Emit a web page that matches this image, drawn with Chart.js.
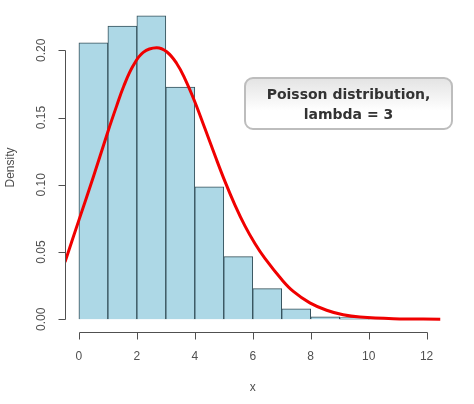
<!DOCTYPE html>
<html><head><meta charset="utf-8">
<script src="https://cdn.jsdelivr.net/npm/chart.js@4"></script>
<style>
html,body{margin:0;padding:0;background:#fff;}
#wrap{position:relative;width:474px;height:404px;overflow:hidden;}
#legend{position:absolute;left:244px;top:77px;width:205px;height:49px;border:2px solid #bdbdbd;border-radius:9px;
background:linear-gradient(#e4e4e4,#ffffff 65%);font:bold 14px "DejaVu Sans",Verdana,sans-serif;color:#333;
text-align:center;line-height:20px;display:flex;flex-direction:column;justify-content:center;}
</style></head><body>
<div id="wrap"><canvas id="c" width="474" height="404" style="width:474px;height:404px"></canvas>
<div id="legend"><div>Poisson distribution,</div><div>lambda = 3</div></div></div>
<script>
// histogram bins (left edges, width 1) and densities
const binStarts = [0, 1, 2, 3, 4, 5, 6, 7, 8, 9, 10];
const densities = [0.2056, 0.218, 0.2257, 0.1726, 0.0984, 0.0466, 0.0228, 0.0077, 0.0018, 0.0012, 0.0005];
// smooth density curve
const curveX = [-0.48, 0, 0.5, 1, 1.3, 1.55, 1.87, 2.22, 2.68, 3.03, 3.37, 3.66, 4.0, 4.35, 4.69, 5.04, 5.39, 5.73, 6.08, 6.42, 7.0, 7.4, 7.97, 8.55, 9.12, 9.7, 10.85, 12.48];
const curveY = [0.0426, 0.0737, 0.106, 0.1395, 0.1585, 0.1735, 0.1885, 0.1985, 0.2019, 0.1989, 0.1904, 0.1788, 0.1618, 0.1418, 0.1221, 0.1025, 0.0847, 0.0694, 0.0561, 0.0452, 0.0295, 0.0207, 0.0122, 0.0067, 0.0033, 0.0016, 0.0004, 0.0];
const xTicks = [0, 2, 4, 6, 8, 10, 12];
const xTickLabels = ['0', '2', '4', '6', '8', '10', '12'];
const yTicks = [0, 0.05, 0.10, 0.15, 0.20];
const yTickLabels = ['0.00', '0.05', '0.10', '0.15', '0.20'];
const xTitle = 'x';
const yTitle = 'Density';

const barData = binStarts.map((b, i) => ({x: b + 0.5, y: densities[i]}));
const lineData = curveX.map((v, i) => ({x: v, y: curveY[i]}));

const rAxes = {
  id: 'rAxes',
  afterDraw(chart) {
    const {ctx, scales: {x, y}, chartArea: a} = chart;
    ctx.save();
    ctx.strokeStyle = '#505050'; ctx.fillStyle = '#505050'; ctx.lineWidth = 1;
    ctx.font = '12px "Liberation Sans", Arial, sans-serif';
    // x axis
    const xb = Math.round(a.bottom) + 0.5;
    ctx.beginPath();
    ctx.moveTo(Math.round(x.getPixelForValue(xTicks[0])) + 0.5, xb);
    ctx.lineTo(Math.round(x.getPixelForValue(xTicks[xTicks.length - 1])) + 0.5, xb);
    xTicks.forEach(v => { const p = Math.round(x.getPixelForValue(v)) + 0.5; ctx.moveTo(p, xb); ctx.lineTo(p, xb + 7); });
    // y axis
    const yl = Math.round(a.left) + 0.5;
    ctx.moveTo(yl, Math.round(y.getPixelForValue(yTicks[0])) + 0.5);
    ctx.lineTo(yl, Math.round(y.getPixelForValue(yTicks[yTicks.length - 1])) + 0.5);
    yTicks.forEach(v => { const p = Math.round(y.getPixelForValue(v)) + 0.5; ctx.moveTo(yl, p); ctx.lineTo(yl - 7, p); });
    ctx.stroke();
    ctx.textAlign = 'center'; ctx.textBaseline = 'middle';
    xTicks.forEach((v, i) => ctx.fillText(xTickLabels[i], x.getPixelForValue(v), a.bottom + 25));
    ctx.fillText(xTitle, (a.left + a.right) / 2, a.bottom + 56);
    yTicks.forEach((v, i) => {
      ctx.save(); ctx.translate(a.left - 23, y.getPixelForValue(v)); ctx.rotate(-Math.PI / 2);
      ctx.fillText(yTickLabels[i], 0, 0); ctx.restore();
    });
    ctx.save(); ctx.translate(11, (a.top + a.bottom) / 2); ctx.rotate(-Math.PI / 2);
    ctx.fillText(yTitle, 0, 0); ctx.restore();
    ctx.restore();
  }
};

new Chart(document.getElementById('c'), {
  type: 'bar',
  data: {
    datasets: [
      {type: 'line', data: lineData, borderColor: '#f00000', borderWidth: 3, pointRadius: 0,
       tension: 0.4, fill: false, order: 0},
      {type: 'bar', data: barData, backgroundColor: '#add8e6', borderColor: '#34505a', borderWidth: 1,
       barPercentage: 1, categoryPercentage: 1, grouped: false, order: 1}
    ]
  },
  options: {
    responsive: false, animation: false, devicePixelRatio: 1,
    layout: {padding: {left: 65, right: 33.5, top: 3, bottom: 72}},
    plugins: {legend: {display: false}, tooltip: {enabled: false}},
    scales: {
      x: {type: 'linear', min: -0.48, max: 12.48, display: false, offset: false},
      y: {type: 'linear', min: -0.0095, max: 0.2352, display: false}
    }
  },
  plugins: [rAxes]
});
</script>
</body></html>
